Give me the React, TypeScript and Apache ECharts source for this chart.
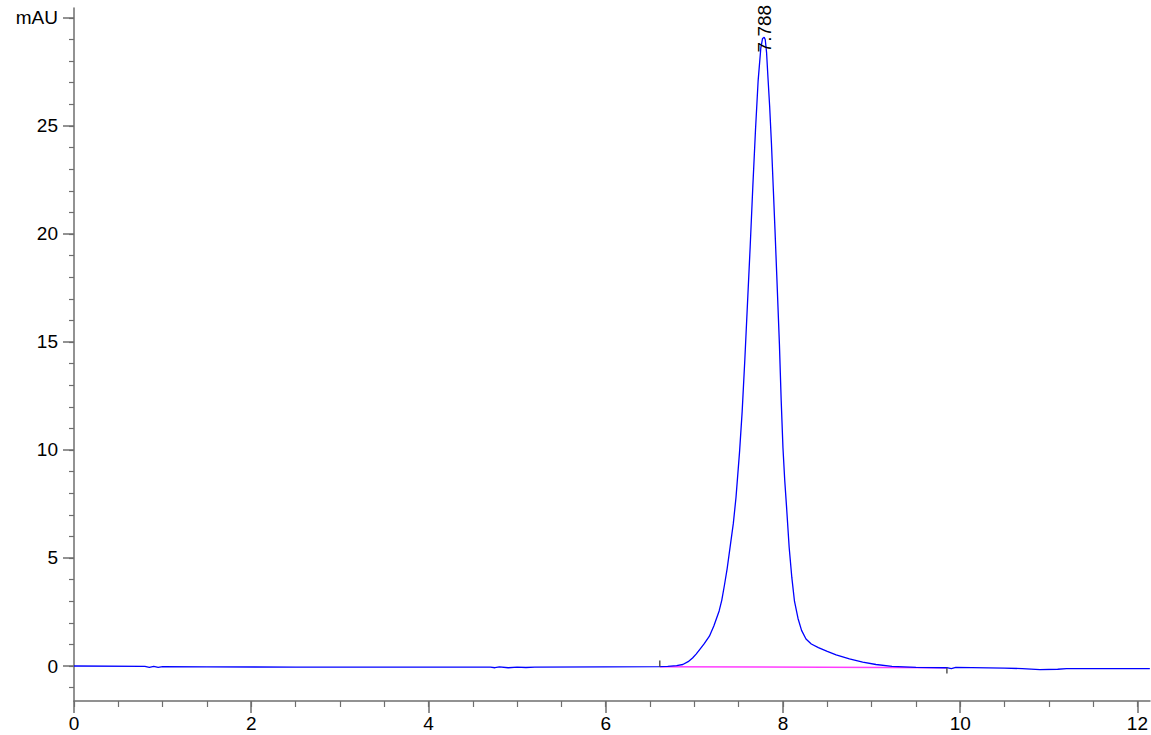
import React, { useEffect, useRef } from "react";
import * as echarts from "echarts";

const signal: [number, number][] = [
  [0, 0], [0.8, -0.02], [0.85, -0.06], [0.9, -0.02], [0.95, -0.06], [1.0, -0.03],
  [1.5, -0.04], [2.5, -0.05], [3, -0.05], [4, -0.05], [4.7, -0.05], [4.75, -0.08],
  [4.8, -0.04], [4.9, -0.08], [5.0, -0.05], [5.1, -0.07], [5.2, -0.05], [6, -0.04],
  [6.6, -0.03], [6.7, -0.02], [6.8, 0.02], [6.87, 0.07], [6.93, 0.2], [6.98, 0.37],
  [7.02, 0.55], [7.06, 0.76], [7.11, 1.02], [7.17, 1.38], [7.22, 1.85], [7.28, 2.55],
  [7.31, 3.05], [7.34, 3.75], [7.37, 4.5], [7.4, 5.4], [7.44, 6.6], [7.47, 7.8],
  [7.51, 9.9], [7.54, 11.8], [7.57, 14.2], [7.6, 16.8], [7.63, 19.4], [7.66, 22.2],
  [7.69, 24.8], [7.72, 27.1], [7.75, 28.6], [7.77, 29.05], [7.788, 29.1], [7.8, 29.0],
  [7.815, 28.4], [7.83, 27.3], [7.85, 25.9], [7.87, 24.2], [7.89, 22.2], [7.91, 20.2],
  [7.93, 18.1], [7.96, 14.9], [7.98, 12.3], [8.0, 10.1], [8.02, 8.6], [8.04, 7.4],
  [8.07, 5.5], [8.1, 4.1], [8.13, 3.0], [8.17, 2.2], [8.21, 1.65], [8.26, 1.25],
  [8.32, 1.02], [8.4, 0.85], [8.5, 0.68], [8.6, 0.52], [8.75, 0.33], [8.9, 0.18],
  [9.05, 0.07], [9.23, -0.02], [9.5, -0.06], [9.85, -0.08], [9.9, -0.12], [9.95, -0.06],
  [10.5, -0.1], [10.7, -0.12], [10.9, -0.17], [11.1, -0.15], [11.2, -0.12], [12.14, -0.12],
];

const integrationBaseline: [number, number][] = [[6.61, -0.03], [9.85, -0.08]];
const startTick: [number, number][] = [[6.61, -0.03], [6.61, 0.25]];
const endTick: [number, number][] = [[9.85, -0.08], [9.85, -0.35]];
const peakTime = 7.788;
const peakHeight = 29.1;
const peakLabel = "7.788";

const xMajor = [0, 2, 4, 6, 8, 10, 12];
const xMinor = [0, 0.5, 1, 1.5, 2, 2.5, 3, 3.5, 4, 4.5, 5, 5.5, 6, 6.5, 7, 7.5, 8, 8.5, 9, 9.5, 10, 10.5, 11, 11.5, 12];
const yMajor = [0, 5, 10, 15, 20, 25, 30];
const yMinor = [-1, 0, 1, 2, 3, 4, 5, 6, 7, 8, 9, 10, 11, 12, 13, 14, 15, 16, 17, 18, 19, 20, 21, 22, 23, 24, 25, 26, 27, 28, 29, 30];
const yUnit = "mAU";

const X_MIN = 0, X_MAX = 12.142, Y_MIN = -1.62, Y_MAX = 30.46;
const FONT = "'Liberation Sans', Arial, sans-serif";
const AXIS_COLOR = "#6e6e6e";

export default function App() {
  const ref = useRef<HTMLDivElement>(null);
  useEffect(() => {
    if (!ref.current) return;
    const chart = echarts.init(ref.current, undefined, { renderer: "svg" });
    const baseX = { type: "value", min: X_MIN, max: X_MAX, position: "bottom", splitLine: { show: false } };
    const baseY = { type: "value", min: Y_MIN, max: Y_MAX, position: "left", splitLine: { show: false } };
    chart.setOption({
      animation: false,
      backgroundColor: "#fff",
      grid: { left: 74, right: 0, top: 8, bottom: 34, containLabel: false },
      xAxis: [
        {
          ...baseX,
          axisLine: { show: true, onZero: false, lineStyle: { color: AXIS_COLOR, width: 1.5 } },
          axisTick: { show: true, customValues: xMajor, length: 12, lineStyle: { color: AXIS_COLOR, width: 1.5 } },
          axisLabel: { customValues: xMajor, color: "#000", fontSize: 19, fontFamily: FONT, margin: 13 },
        },
        {
          ...baseX,
          axisLine: { show: false, onZero: false },
          axisTick: { show: true, customValues: xMinor, length: 6, lineStyle: { color: AXIS_COLOR, width: 1.2 } },
          axisLabel: { show: false },
        },
      ],
      yAxis: [
        {
          ...baseY,
          axisLine: { show: true, lineStyle: { color: AXIS_COLOR, width: 1.5 } },
          axisTick: { show: true, customValues: yMajor, length: 11, lineStyle: { color: AXIS_COLOR, width: 1.5 } },
          axisLabel: {
            customValues: yMajor,
            color: "#000",
            fontSize: 19,
            fontFamily: FONT,
            margin: 16,
            formatter: (v: number) => (v === 30 ? yUnit : String(v)),
          },
        },
        {
          ...baseY,
          axisLine: { show: false },
          axisTick: { show: true, customValues: yMinor, length: 5, lineStyle: { color: AXIS_COLOR, width: 1.2 } },
          axisLabel: { show: false },
        },
      ],
      series: [
        {
          type: "line",
          data: integrationBaseline,
          showSymbol: false,
          lineStyle: { color: "#ff3cff", width: 1.5 },
          z: 2,
        },
        {
          type: "line",
          data: signal,
          showSymbol: false,
          lineStyle: { color: "#0000ff", width: 1.3 },
          z: 3,
          markPoint: {
            symbol: "circle",
            symbolSize: 0,
            data: [{ coord: [peakTime, peakHeight] }],
            label: {
              show: true,
              formatter: peakLabel,
              position: "inside",
              rotate: 90,
              align: "left",
              verticalAlign: "middle",
              offset: [-15, 0],
              color: "#000",
              fontSize: 19,
              fontFamily: FONT,
            },
          },
        },
        {
          type: "line",
          data: startTick,
          showSymbol: false,
          lineStyle: { color: "#555", width: 1.5 },
          z: 4,
        },
        {
          type: "line",
          data: endTick,
          showSymbol: false,
          lineStyle: { color: "#555", width: 1.5 },
          z: 4,
        },
      ],
    });
    return () => chart.dispose();
  }, []);
  return (
    <div
      ref={ref}
      style={{ position: "fixed", left: 0, top: 0, width: 1151, height: 735, background: "#fff" }}
    />
  );
}
